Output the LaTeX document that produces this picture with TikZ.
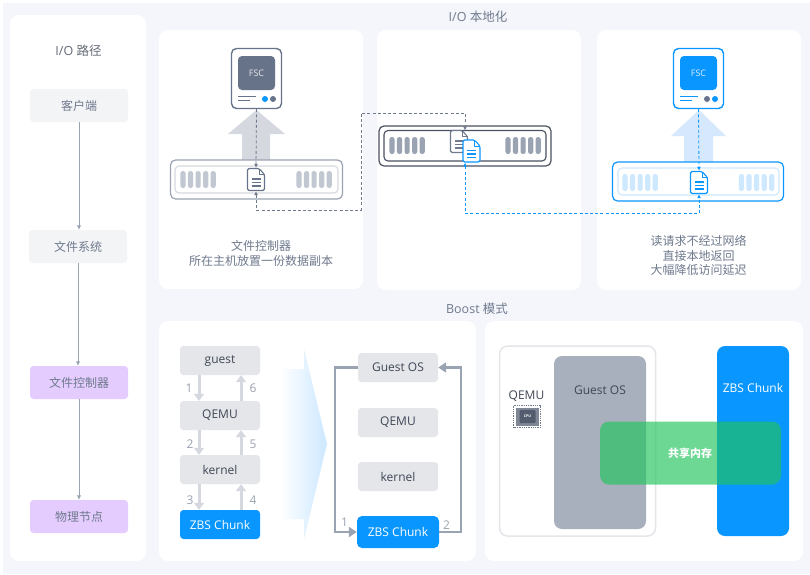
\documentclass[tikz,border=0pt]{standalone}
\usepackage{fontspec}
\setmainfont{Open Sans}
\newfontfamily\cjk{Noto Sans CJK SC}
\usetikzlibrary{arrows.meta,calc}
\definecolor{pagebg}{HTML}{F4F6FB}
\definecolor{greybox}{HTML}{E4E6EA}
\definecolor{pathbox}{HTML}{F3F4F6}
\definecolor{lilac}{HTML}{E4CCFF}
\definecolor{zbs}{HTML}{0A96FF}
\definecolor{slate}{HTML}{677389}
\definecolor{ink}{HTML}{3F4655}
\definecolor{mute}{HTML}{6F7A8D}
\definecolor{numc}{HTML}{9AA3B2}
\definecolor{lightarrow}{HTML}{D5D8DE}
\definecolor{lightblue}{HTML}{D6E8FD}
\definecolor{pillblue}{HTML}{CDE8FF}
\definecolor{darkrack}{HTML}{4A5160}
\tikzset{
  x=1pt,y=-1pt,
  panel/.style={fill=white,draw=none,rounded corners=9pt},
  flat/.style={rectangle,rounded corners=3.5pt,inner sep=0pt,font=\fontsize{12}{14}\selectfont},
  gbox/.style={flat,fill=greybox,text=ink,minimum width=80pt,minimum height=29pt},
  zbox/.style={flat,fill=zbs,text=white,minimum width=80pt,minimum height=29pt},
  pbox/.style={flat,fill=pathbox,text=mute,minimum width=98pt,minimum height=33pt,font=\cjk\fontsize{12}{14}\selectfont},
  lbox/.style={pbox,fill=lilac},
  title/.style={inner sep=0pt,text=mute,font=\fontsize{12.5}{15}\selectfont},
  caption/.style={inner sep=0pt,text=mute,align=center,font=\cjk\fontsize{12}{14.6}\selectfont},
  num/.style={inner sep=0pt,text=numc,font=\fontsize{12}{14}\selectfont},
  thin path/.style={draw=numc,line width=0.9pt,-{Latex[length=4.5pt,width=4.5pt]}},
  step arrow/.style={draw=lightarrow,line width=3pt,-{Triangle[length=7pt,width=10pt]}},
  loop arrow/.style={draw=numc,line width=2.4pt,-{Triangle[length=8pt,width=10pt]},line join=miter},
  grey dash/.style={draw=mute,line width=0.8pt,dash pattern=on 3pt off 2.2pt,{Latex[length=4pt,width=4pt]}-{Latex[length=4pt,width=4pt]}},
  blue dash/.style={draw=zbs,line width=0.8pt,dash pattern=on 3pt off 2.2pt,{Latex[length=4pt,width=4pt]}-{Latex[length=4pt,width=4pt]}},
  one way/.style={{}-{Latex[length=4pt,width=4pt]}},
}
% name, centre x, centre y, colour
\newcommand{\docicon}[4]{%
  \node[minimum width=18pt,minimum height=23pt,inner sep=0pt] (#1) at (#2,#3) {};
  \begin{scope}[shift={(#2,#3)}]
    \draw[#4,fill=white,line width=1.1pt,line join=round,rounded corners=1.5pt]
      (-8.5,-11) -- (3,-11) -- (8.5,-5) -- (8.5,11) -- (-8.5,11) -- cycle;
    \draw[#4,line width=1pt,line join=round] (3,-11) -- (3,-5) -- (8.5,-5);
    \draw[#4,line width=1.2pt] (-4.5,-0.5) -- (4.5,-0.5) (-4.5,3) -- (4.5,3) (-4.5,6.5) -- (4.5,6.5);
  \end{scope}}
% centre x of first pill, y top, y bottom, colour
\newcommand{\pills}[4]{%
  \foreach \pp in {0,1,2,3,4}
    \fill[#4,rounded corners=2.4pt] ({#1+7.55*\pp-2.6},#2) rectangle ({#1+7.55*\pp+2.6},#3);}
\begin{document}
\begin{tikzpicture}
\useasboundingbox (0,0) rectangle (810,574);
\fill[white] (0,0) rectangle (810,574);
\fill[pagebg] (3,3) rectangle (810,574);

% panels
\fill[panel] (10,15) rectangle (146,561);
\fill[panel] (159,30) rectangle (363,289);
\fill[panel] (377,30) rectangle (581,290);
\fill[panel] (597,30) rectangle (801,290);
\fill[panel] (159,321) rectangle (476,561);
\fill[panel] (485,321) rectangle (803,561);

% titles
\node[title] (t1) at (478,17) {I/O {\cjk 本地化}};
\node[title] (t2) at (477,309) {Boost {\cjk 模式}};
\node[title,text=ink!80] (t3) at (78.5,51) {I/O {\cjk 路径}};

% IO path
\node[pbox] (client) at (79,105.5) {客户端};
\node[pbox] (fs) at (78,246.5) {文件系统};
\node[lbox] (fc) at (79,382.5) {文件控制器};
\node[lbox] (phys) at (79,516.5) {物理节点};
\draw[thin path] (client) -- (fs.north -| client);
\draw[thin path] (fs) -- (fc.north -| fs);
\draw[thin path] (fc) -- (phys);

% panel 1
\fill[lightarrow] (256.5,110) -- (285,134) -- (270,134) -- (270,160) -- (242,160) -- (242,134) -- (228,134) -- cycle;
\node[draw=slate,fill=white,line width=1.4pt,rounded corners=5pt,minimum width=50pt,minimum height=60pt,inner sep=0pt] (fsc1) at (256.5,78.5) {};
\node[flat,fill=slate,text=white!85!slate,rounded corners=4pt,minimum width=37pt,minimum height=34pt,font=\fontsize{9}{11}\selectfont] (fsc1in) at (256.5,73) {FSC};
\draw[slate,line width=1.6pt] (238,96.5) -- (256,96.5) (238,100.5) -- (250,100.5);
\fill[zbs] (265,99) circle (3);
\fill[slate] (273,99) circle (3);
\node[draw=numc,fill=white,line width=1.2pt,rounded corners=5pt,minimum width=172pt,minimum height=39pt,inner sep=0pt] (rack1) at (256.5,179.5) {};
\draw[lightarrow,line width=1.1pt,rounded corners=4pt] (175,166) rectangle (338,193);
\pills{183}{171}{188}{numc!60}
\pills{299}{171}{188}{numc!60}
\docicon{doc1}{256}{179.5}{slate}
\draw[grey dash,one way] (fsc1.south) -- (doc1.north);
\node[caption] (cap1) at (261,253.5) {文件控制器\\所在主机放置一份数据副本};

% panel 2
\node[draw=darkrack,fill=white,line width=1.2pt,rounded corners=5pt,minimum width=172pt,minimum height=40pt,inner sep=0pt] (rack2) at (465,146) {};
\draw[darkrack,line width=1.1pt,rounded corners=4pt] (384,130.5) rectangle (546,161);
\pills{392}{137}{154}{numc}
\pills{508}{137}{154}{numc}
\docicon{doc2}{459}{141.5}{mute}
\docicon{doc3}{471.5}{151}{zbs}

% panel 3
\fill[lightblue] (699,110) -- (726,136) -- (713,136) -- (713,162) -- (684,162) -- (684,136) -- (671,136) -- cycle;
\node[draw=zbs,fill=white,line width=1.4pt,rounded corners=5pt,minimum width=50pt,minimum height=60pt,inner sep=0pt] (fsc3) at (698.5,78.5) {};
\node[flat,fill=zbs,text=white!85!zbs,rounded corners=4pt,minimum width=37pt,minimum height=34pt,font=\fontsize{9}{11}\selectfont] (fsc3in) at (698.5,73) {FSC};
\draw[zbs,line width=1.6pt] (680,96.5) -- (698,96.5) (680,100.5) -- (692,100.5);
\fill[slate] (707,99) circle (3);
\fill[zbs] (715,99) circle (3);
\node[draw=zbs,fill=white,line width=1.2pt,rounded corners=5pt,minimum width=171pt,minimum height=39pt,inner sep=0pt] (rack3) at (698,181.5) {};
\draw[pillblue,line width=1.1pt,rounded corners=4pt] (618,168) rectangle (779,195);
\pills{625}{174}{191}{pillblue}
\pills{741.5}{174}{191}{pillblue}
\docicon{doc4}{699}{182.5}{zbs}
\draw[blue dash,one way] (fsc3.south) -- (doc4.north);
\node[caption] (cap3) at (698.5,255.5) {读请求不经过网络\\直接本地返回\\大幅降低访问延迟};

% dashed links
\coordinate (g1) at (256,210);
\coordinate (g2) at (361,210);
\coordinate (g3) at (361,113);
\coordinate (g4) at (465,113);
\coordinate (gend) at (465,130.5);
\draw[grey dash] (doc1.south) -- (g1) -- (g2) -- (g3) -- (g4) -- (gend);
\coordinate (b1) at (465,213);
\coordinate (b2) at (699,213);
\draw[blue dash] (doc3.south -| b1) -- (b1) -- (b2) -- (doc4.south);

% panel 4 left stack
\node[gbox] (guest) at (220,360.5) {guest};
\node[gbox] (qemu) at (220,415.5) {QEMU};
\node[gbox] (kern) at (220,469.5) {kernel};
\node[zbox] (chunk) at (220,524.5) {ZBS Chunk};
\draw[step arrow] (guest.south -| 199,0) -- (qemu.north -| 199,0);
\draw[step arrow] (qemu.south -| 199,0) -- (kern.north -| 199,0);
\draw[step arrow] (kern.south -| 199,0) -- (chunk.north -| 199,0);
\draw[step arrow] (chunk.north -| 241,0) -- (kern.south -| 241,0);
\draw[step arrow] (kern.north -| 241,0) -- (qemu.south -| 241,0);
\draw[step arrow] (qemu.north -| 241,0) -- (guest.south -| 241,0);
\node[num] (n1) at (189,388) {1};
\node[num] (n6) at (253,388) {6};
\node[num] (n2) at (190,444) {2};
\node[num] (n5) at (253,444) {5};
\node[num] (n3) at (190,500) {3};
\node[num] (n4) at (253,500) {4};

% big arrow
\shade[left color=white,right color=blue!0!cyan!0!white!0!lightblue!0!pillblue!70!zbs!100!white,shading angle=90,left color=white,right color=pillblue]
  (280,369) -- (304,369) -- (304,349) -- (327,444) -- (304,539) -- (304,519) -- (280,519) -- cycle;

% panel 4 right stack
\node[gbox] (guest2) at (398,367.5) {Guest OS};
\node[gbox] (qemu2) at (398,422.5) {QEMU};
\node[gbox] (kern2) at (398,476.5) {kernel};
\node[zbox,minimum width=82pt,minimum height=32pt,rounded corners=5pt] (chunk2) at (398,532) {ZBS Chunk};
\coordinate (lA) at (335,367.5);
\coordinate (lB) at (335,532);
\coordinate (rA) at (461,532);
\coordinate (rB) at (461,367.5);
\draw[loop arrow] (guest2.west) -- (lA) -- (lB) -- (chunk2.west);
\draw[loop arrow] (chunk2.east) -- (rA) -- (rB) -- (guest2.east);
\node[num] (m1) at (344.5,522) {1};
\node[num] (m2) at (446.5,525) {2};

% panel 5
\node[draw=greybox,fill=white,line width=1.5pt,rounded corners=8pt,minimum width=156pt,minimum height=190pt,inner sep=0pt] (qbox) at (577.5,441) {};
\node[flat,fill=numc!80!greybox,rounded corners=8pt,minimum width=92pt,minimum height=173pt] (gos) at (600,442.5) {};
\node[flat,fill=zbs,rounded corners=8pt,minimum width=72pt,minimum height=190pt] (zc) at (753,441) {};
\node[inner sep=0pt,text=ink,font=\fontsize{12}{14}\selectfont] (gl) at (600,390) {Guest OS};
\node[inner sep=0pt,text=white,font=\fontsize{12}{14}\selectfont] (zl) at (753,388) {ZBS Chunk};
\node[inner sep=0pt,text=ink,font=\fontsize{12}{14}\selectfont] (ql) at (526.5,396) {QEMU};
\fill[green!77!black,fill=green!0!white,fill=white,opacity=0] (600,422) rectangle (601,423);
\definecolor{sharegreen}{HTML}{20C45C}
\node[flat,fill=sharegreen,fill opacity=0.65,rounded corners=9pt,minimum width=181pt,minimum height=63pt] (shm) at (690.5,453) {};
\node[inner sep=0pt,text=white,font=\cjk\bfseries\fontsize{11}{13}\selectfont] (shl) at (690,453) {共享内存};

% cpu icon
\draw[mute,line width=1pt,dash pattern=on 0.9pt off 0.9pt] (513.5,405.5) rectangle (540.5,427.5);
\fill[numc!70!ink] (516,407.5) rectangle (538.5,426);
\node[flat,fill=slate!80!black,rounded corners=1pt,text=white,minimum width=16pt,minimum height=13pt,font=\bfseries\fontsize{3.6}{4}\selectfont] (cpu) at (527.5,416.5) {CPU};
\end{tikzpicture}
\end{document}
